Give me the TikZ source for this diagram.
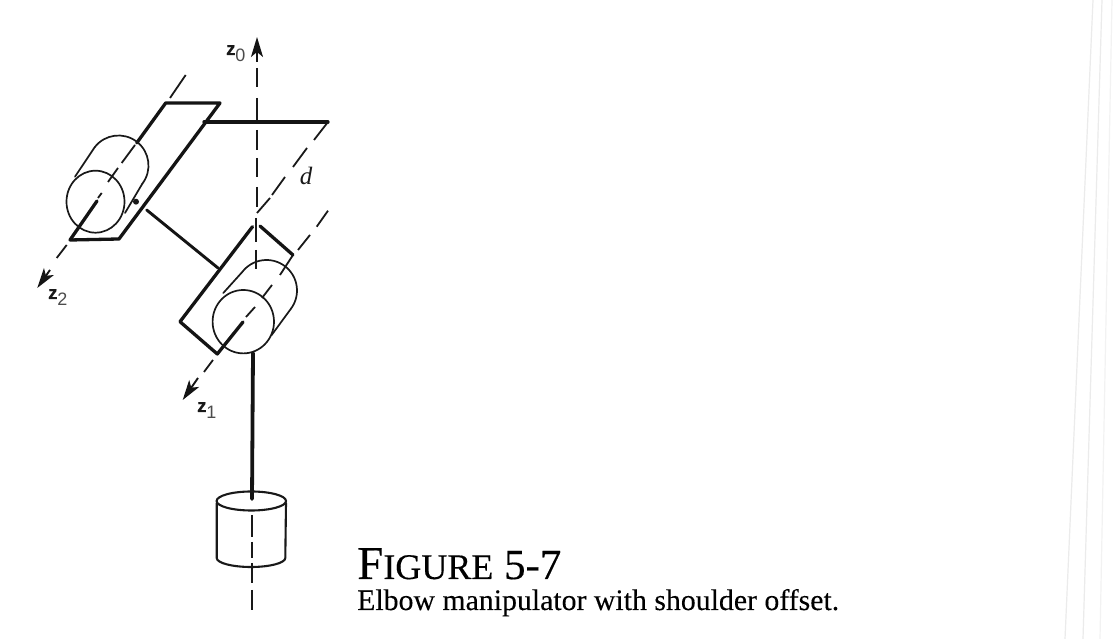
\documentclass[tikz,border=0pt]{standalone}
\usepackage{fontspec}
\setmainfont{Liberation Serif}
\newfontfamily\labelfont[FakeBold=0.6]{Liberation Sans}
\newfontfamily\sublabelfont{Liberation Sans}
\newfontfamily\titlefont[FakeBold=0.35]{Liberation Serif}
\newfontfamily\capfont[FakeBold=0.15]{Liberation Serif}
\usetikzlibrary{arrows.meta,calc}
\tikzset{
  thickline/.style={line width=3.3pt,line join=round,line cap=round,draw=black!92},
  medline/.style={line width=2.9pt,line cap=round,draw=black!92},
  thinline/.style={line width=1.7pt,line cap=round,draw=black!90},
  baseline/.style={line width=2.1pt,line cap=round,draw=black!90},
  axisdash/.style={line width=1.8pt,draw=black!90},
  axisarrow/.style={line width=1.9pt,draw=black!92,-{Stealth[length=20pt,width=12pt,inset=5pt]}},
  tag/.style={inner sep=0pt,text=black!90},
  paper/.style={line width=1.2pt,draw=black!8}
}
\newcommand{\axlabel}[2]{{\labelfont\fontsize{18.5}{18.5}\selectfont\textbf{#1}\raisebox{-7pt}{\sublabelfont\fontsize{18}{18}\selectfont\color{black!70}#2}}}
\begin{document}
\begin{tikzpicture}[x=1pt,y=1pt]
\useasboundingbox (0,0) rectangle (1117,639);
\fill[white] (0,0) rectangle (1117,639);
\begin{scope}[yshift=639pt,yscale=-1]
% named points
\coordinate (pA) at (165.7,103);
\coordinate (pB) at (220,103);
\coordinate (pC) at (119,239);
\coordinate (pD) at (70,240);
\coordinate (pE) at (136.7,143);
\coordinate (pF) at (97,201);
\coordinate (armL) at (204,122);
\coordinate (armR) at (328,122);
\coordinate (elbow) at (146.7,210);
\coordinate (qA) at (252.5,226.7);
\coordinate (qJ) at (218,268);
\coordinate (qB) at (180,321.7);
\coordinate (qC) at (217.3,354);
\coordinate (qD) at (243,322);
\coordinate (qE) at (293,255);
\coordinate (qF) at (260,226);
\coordinate (cFa) at (95.5,201.7);
\coordinate (cBa) at (118.5,165.5);
\coordinate (cFb) at (243.3,321.7);
\coordinate (cBb) at (266.5,290.5);
% faint paper edge
\draw[paper] (1093,0) -- (1065,639);
\draw[paper] (1102,0) -- (1083,639);
\draw[paper,draw=black!5] (1112,0) -- (1100,639);
% z0 axis
\draw[axisarrow] (257,62) -- (257,37);
\draw[axisdash] (257,68) -- (257,87);
\draw[axisdash] (257,98) -- (257,120);
\draw[axisdash] (257,130) -- (257,150);
\draw[axisdash] (257,158) -- (257,177);
\draw[axisdash] (257,187) -- (257,207);
\draw[axisdash] (256,218) -- (256,242);
\draw[axisdash] (256,250) -- (256,269);
% z2 axis
\draw[axisdash] (185.7,75) -- (170,98);
\draw[axisdash] (135,145) -- (121.7,163);
\draw[axisdash] (118,168) -- (108,182);
\draw[axisdash] (101.7,193) -- (98,198);
\draw[axisdash] (66.7,245) -- (56.7,258);
\draw[axisarrow] (50,270) -- (37.3,288);
% d axis
\draw[axisdash] (307,148) -- (293,167);
\draw[axisdash] (285,177) -- (272,195);
\draw[axisdash] (270,198) -- (257,213);
% z1 axis
\draw[axisdash] (328,210.7) -- (316.7,226.7);
\draw[axisdash] (310,235) -- (298,250);
\draw[axisdash] (293,255) -- (280,275);
\draw[axisdash] (272,285) -- (262,298);
\draw[axisdash] (255,307) -- (246,317);
\draw[axisdash] (213,360) -- (204,372);
\draw[axisarrow] (198,378) -- (182.7,400);
% upper plate
\draw[thickline] (pE) -- (pA) -- (pB) -- (pC) -- (pD) -- (pF);
\draw[thickline] (armL) -- (armR);
\draw[axisdash] (armR) -- (314,140);
% upper cylinder
\draw[thinline] (cFa) ellipse[x radius=29,y radius=31];
\draw[thinline] ($(cBa)+(-142.6:30)$) arc[start angle=-142.6,end angle=37.4,radius=30];
\draw[thinline] (75,176.7) -- ($(cBa)+(-142.6:30)$);
\draw[thinline] (125,213) -- ($(cBa)+(37.4:30)$);
\fill[black!90] (136,201.7) circle[radius=3];
% link
\draw[medline] (elbow) -- (qJ);
% lower plate
\draw[thickline] (qA) -- (qB) -- (qC) -- (qD);
\draw[thickline] (qF) -- (qE);
% lower cylinder
\draw[thinline] (cFb) ellipse[x radius=30.7,y radius=31.7];
\draw[thinline] ($(cBb)+(-142.6:30.5)$) arc[start angle=-142.6,end angle=37.4,radius=30.5];
\draw[thinline] (223.3,293) -- ($(cBb)+(-142.6:30.5)$);
\draw[thinline] (271.7,335) -- ($(cBb)+(37.4:30.5)$);
% column
\draw[thickline,line width=3.8pt] (253,353) -- (252,499);
% base
\draw[baseline] (251.3,501) ellipse[x radius=34.7,y radius=9.5];
\draw[baseline] (216.7,503) -- (216.7,558) arc[start angle=180,end angle=0,x radius=34.3,y radius=9] -- (286,503);
\draw[axisdash] (252,515) -- (252,537);
\draw[axisdash] (252,542) -- (252,558);
\draw[axisdash] (252,563) -- (252,583);
\draw[axisdash] (252,590) -- (252,610);
% labels
\node[tag,anchor=base west] (lz0) at (226,55) {\axlabel{z}{0}};
\node[tag,anchor=base west] (lz2) at (48,299) {\axlabel{z}{2}};
\node[tag,anchor=base west] (lz1) at (197,412) {\axlabel{z}{1}};
\node[tag,anchor=base] (ld) at (306,185) {\fontsize{25}{25}\selectfont\itshape d};
\node[tag,anchor=base west,text=black] (title) at (357,579) {\titlefont\fontsize{47}{47}\selectfont F\fontsize{36}{36}\selectfont IGURE\fontsize{43}{43}\selectfont\ 5-7};
\node[tag,anchor=base west,text=black] (caption) at (357,610) {\capfont\fontsize{29.8}{29.8}\selectfont Elbow manipulator with shoulder offset.};
\end{scope}
\end{tikzpicture}
\end{document}
